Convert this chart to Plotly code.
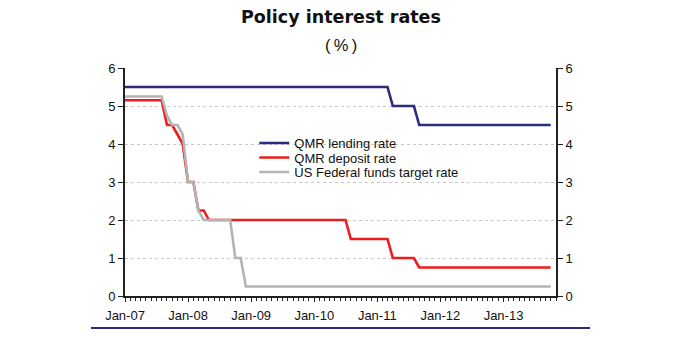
import plotly.graph_objects as go

lend_dates = ["2007-01-01", "2011-03-01", "2011-04-01", "2011-08-01", "2011-09-01", "2013-10-01"]
lend_vals = [5.5, 5.5, 5.0, 5.0, 4.5, 4.5]

dep_dates = ["2007-01-01", "2007-08-01", "2007-09-01", "2007-10-01", "2007-11-01", "2007-12-01",
             "2008-01-01", "2008-02-01", "2008-03-01", "2008-04-01", "2008-05-01", "2010-07-01",
             "2010-08-01", "2011-03-01", "2011-04-01", "2011-08-01", "2011-09-01", "2013-10-01"]
dep_vals = [5.15, 5.15, 4.5, 4.5, 4.25, 4.0,
            3.0, 3.0, 2.25, 2.25, 2.0, 2.0,
            1.5, 1.5, 1.0, 1.0, 0.75, 0.75]

fed_dates = ["2007-01-01", "2007-08-01", "2007-09-01", "2007-10-01", "2007-11-01", "2007-12-01",
             "2008-01-01", "2008-02-01", "2008-03-01", "2008-04-01", "2008-09-01", "2008-10-01",
             "2008-11-01", "2008-12-01", "2013-10-01"]
fed_vals = [5.25, 5.25, 4.75, 4.5, 4.5, 4.25,
            3.0, 3.0, 2.25, 2.0, 2.0, 1.0,
            1.0, 0.25, 0.25]

names = ["QMR lending rate", "QMR deposit rate", "US Federal funds target rate"]
colors = ["#2b2d7c", "#ee1c1c", "#b4b4b4"]
legend_ids = ["legend", "legend2", "legend3"]
y_ticks = [0, 1, 2, 3, 4, 5, 6]

FONT = "Liberation Sans, Arial, sans-serif"
T, B = 68, 42
plot_h = 338 - T - B

fig = go.Figure()
for d, v, n, c, lg in zip([lend_dates, dep_dates, fed_dates], [lend_vals, dep_vals, fed_vals],
                          names, colors, legend_ids):
    fig.add_trace(go.Scatter(x=d, y=v, name=n, mode="lines", legend=lg,
                             line=dict(color=c, width=2.6)))
# invisible trace to display the right-hand axis
fig.add_trace(go.Scatter(x=lend_dates, y=lend_vals, yaxis="y2", mode="lines",
                         line=dict(width=0), showlegend=False, hoverinfo="skip"))

legend_rows_px = [143, 157.5, 172]
leg_common = dict(xanchor="left", yanchor="middle", bgcolor="rgba(0,0,0,0)",
                  font=dict(size=13, color="#111", family=FONT), itemwidth=30)
legends = {}
for lg, py in zip(legend_ids, legend_rows_px):
    legends[lg] = dict(x=0.3, y=(338 - B - py) / plot_h, **leg_common)

fig.update_layout(
    width=692, height=338,
    margin=dict(l=125, r=136, t=T, b=B),
    paper_bgcolor="white", plot_bgcolor="white",
    font=dict(family=FONT, size=13, color="#111111"),
    showlegend=True,
    **legends,
    xaxis=dict(type="date", range=["2007-01-01", "2013-11-01"],
               tick0="2007-01-01", dtick="M12", tickformat="%b-%y",
               ticks="outside", ticklen=4, tickcolor="#222", tickwidth=1,
               minor=dict(dtick="M1", ticks="outside", ticklen=3, tickcolor="#222", tickwidth=1),
               showline=True, linecolor="#222", linewidth=1.8,
               showgrid=False, zeroline=False, ticklabelstandoff=2,
               tickfont=dict(size=13)),
    yaxis=dict(range=[0, 6], tickvals=y_ticks, ticks="outside", ticklen=5,
               tickcolor="#222", showline=True, linecolor="#222", linewidth=1.8,
               showgrid=True, gridcolor="#c8c8c8", griddash="dot", gridwidth=1,
               zeroline=False, tickfont=dict(size=13)),
    yaxis2=dict(range=[0, 6], tickvals=y_ticks, overlaying="y", side="right",
                ticks="outside", ticklen=5, tickcolor="#222",
                showline=True, linecolor="#222", linewidth=1.8,
                showgrid=False, zeroline=False, tickfont=dict(size=13)),
    shapes=[
        dict(type="line", xref="paper", yref="paper", x0=-0.079, x1=1.079,
             y0=-(328 - (338 - B)) / plot_h, y1=-(328 - (338 - B)) / plot_h,
             line=dict(color="#2b2d7c", width=2)),
    ],
)

fig.add_annotation(text="<b>Policy interest rates</b>", x=0.5, xref="paper", yref="paper",
                   y=1 + (T - 17) / plot_h, yanchor="middle", showarrow=False,
                   font=dict(size=17.5, family="DejaVu Sans, sans-serif", color="#111"))
fig.add_annotation(text="(\u2009%\u2009)", x=0.5, xref="paper", yref="paper",
                   y=1 + (T - 45) / plot_h, yanchor="middle", showarrow=False,
                   font=dict(size=16.5, family=FONT, color="#111"))

fig.write_html("out.html")
